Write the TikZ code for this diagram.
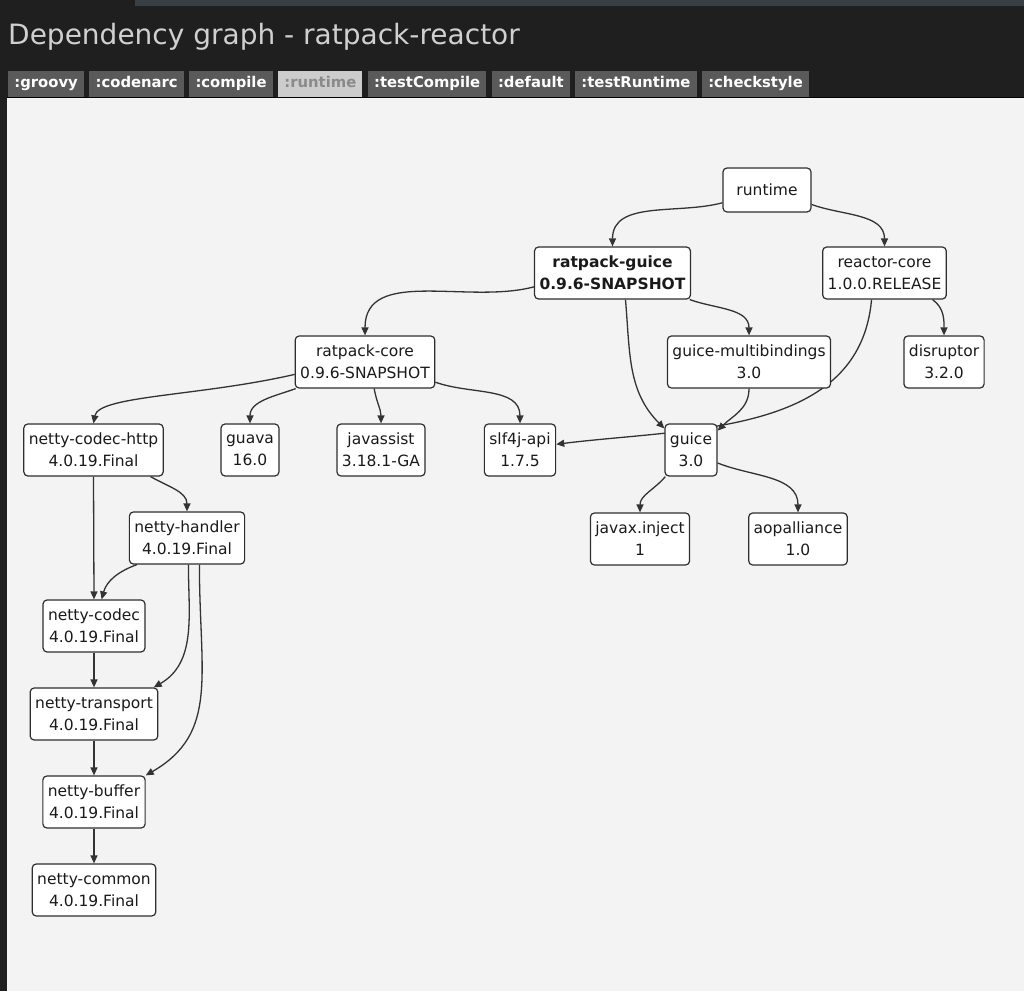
\documentclass[tikz,border=0pt]{standalone}
\usepackage{fontspec}
\setmainfont{DejaVu Sans}
\usetikzlibrary{arrows.meta,positioning,backgrounds}
\definecolor{pagedark}{HTML}{1F1F1F}
\definecolor{pagelight}{HTML}{F3F3F3}
\definecolor{stripgray}{HTML}{3A3F44}
\definecolor{titlegray}{HTML}{D0D0D0}
\definecolor{tabgray}{HTML}{5A5A5A}
\definecolor{tabactive}{HTML}{CCCCCC}
\definecolor{tabactivetext}{HTML}{8A8A8A}
\definecolor{boxline}{HTML}{2E2E2E}
\definecolor{boxtext}{HTML}{1A1A1A}
\definecolor{edgegray}{HTML}{333333}
\tikzset{
  dep/.style={draw=boxline, line width=1.2pt, rounded corners=4pt, fill=white, text=boxtext,
    align=center, inner xsep=5pt, minimum height=52pt, font=\fontsize{15.5}{22}\selectfont},
  tab/.style={fill=tabgray, text=white, inner xsep=6.2pt, minimum height=26pt,
    text height=11pt, text depth=3.5pt, font=\bfseries\fontsize{14.8}{18}\selectfont},
  deparrow/.style={->, draw=edgegray, line width=1.3pt}
}
\begin{document}
\begin{tikzpicture}[x=1pt, y=1pt, >={Triangle[length=8pt,width=7pt]}, node distance=5pt]
\useasboundingbox (0,0) rectangle (1024,991);
\begin{pgfonlayer}{background}
\fill [pagedark] (0,0) rectangle (1024,991);
\fill [stripgray] (135,985) rectangle (1024,991);
\fill [pagelight] (7,0) rectangle (1024,893);
\draw [black, line width=1.5pt] (7,893.5) -- (1024,893.5);
\end{pgfonlayer}
% title and tabs
\node (title) at (8,946) [anchor=base west, inner sep=0pt, text=titlegray, font=\fontsize{28}{30}\selectfont] {Dependency graph - ratpack-reactor};
\node (tgroovy) at (8,907) [tab, anchor=west] {:groovy};
\node (tcodenarc) [tab, right=of tgroovy] {:codenarc};
\node (tcompile) [tab, right=of tcodenarc] {:compile};
\node (truntime) [tab, right=of tcompile, fill=tabactive, text=tabactivetext] {:runtime};
\node (ttestcompile) [tab, right=of truntime] {:testCompile};
\node (tdefault) [tab, right=of ttestcompile] {:default};
\node (ttestruntime) [tab, right=of tdefault] {:testRuntime};
\node (tcheckstyle) [tab, right=of ttestruntime] {:checkstyle};
% dependencies
\node (rt) at (767,801) [dep, minimum width=88pt, minimum height=44pt] {runtime};
\node (rg) at (612.5,718) [dep] {\textbf{ratpack-guice}\\\textbf{0.9.6-SNAPSHOT}};
\node (rc) at (884.5,718) [dep] {reactor-core\\1.0.0.RELEASE};
\node (pc) at (365,629) [dep] {ratpack-core\\0.9.6-SNAPSHOT};
\node (gm) at (749,629) [dep] {guice-multibindings\\3.0};
\node (dis) at (944,629) [dep] {disruptor\\3.2.0};
\node (nch) at (93.5,541) [dep] {netty-codec-http\\4.0.19.Final};
\node (gua) at (250,541) [dep] {guava\\16.0};
\node (jav) at (381,541) [dep] {javassist\\3.18.1-GA};
\node (slf) at (520,541) [dep] {slf4j-api\\1.7.5};
\node (gui) at (691,541) [dep] {guice\\3.0};
\node (nh) at (187,453) [dep] {netty-handler\\4.0.19.Final};
\node (jin) at (640,452) [dep] {javax.inject\\1};
\node (aop) at (798,452) [dep] {aopalliance\\1.0};
\node (nc) at (94,365) [dep] {netty-codec\\4.0.19.Final};
\node (nt) at (94,277) [dep] {netty-transport\\4.0.19.Final};
\node (nb) at (94,189) [dep] {netty-buffer\\4.0.19.Final};
\node (ncm) at (94,101) [dep] {netty-common\\4.0.19.Final};
\begin{pgfonlayer}{background}
\draw [deparrow] (rt.-164) to [out=195, in=90] (rg.north);
\draw [deparrow] (rt.-18) to [out=-20, in=90] (rc.north);
\draw [deparrow] (rg.190) to [out=195, in=90] (pc.north);
\draw [deparrow] (rg.-19) to [out=-20, in=90] (gm.north);
\draw [deparrow] (rg.-64) to [out=-85, in=135] (gui.141);
\draw [deparrow] (gm.south) to [out=-90, in=45] (gui.36);
\draw [deparrow] (rc.-116) to [out=-95, in=7] (slf.9);
\draw [deparrow] (rc.-29) to [out=-35, in=90] (dis.north);
\draw [deparrow] (pc.190) to [out=193, in=80, out looseness=1.2, in looseness=0.35] (nch.north);
\draw [deparrow] (pc.-159) to [out=200, in=90] (gua.north);
\draw [deparrow] (pc.-71) to [out=-80, in=90] (jav.north);
\draw [deparrow] (pc.-16) to [out=-20, in=90] (slf.north);
\draw [deparrow] (nch.-25) to [out=-30, in=90] (nh.north);
\draw [deparrow] (nch.south) -- (nc.north);
\draw [deparrow] (nh.-152) to [out=200, in=75] (nc.74);
\draw [deparrow] (nh.-87) to [out=-90, in=30] (nt.24);
\draw [deparrow] (nh.-65) to [out=-90, in=30, out looseness=1.3] (nb.north east);
\draw [deparrow] (nc.south) -- (nt.north);
\draw [deparrow] (nt.south) -- (nb.north);
\draw [deparrow] (nb.south) -- (ncm.north);
\draw [deparrow] (gui.-134) to [out=-130, in=90] (jin.north);
\draw [deparrow] (gui.-26) to [out=-22, in=90] (aop.north);
\end{pgfonlayer}
\end{tikzpicture}
\end{document}
